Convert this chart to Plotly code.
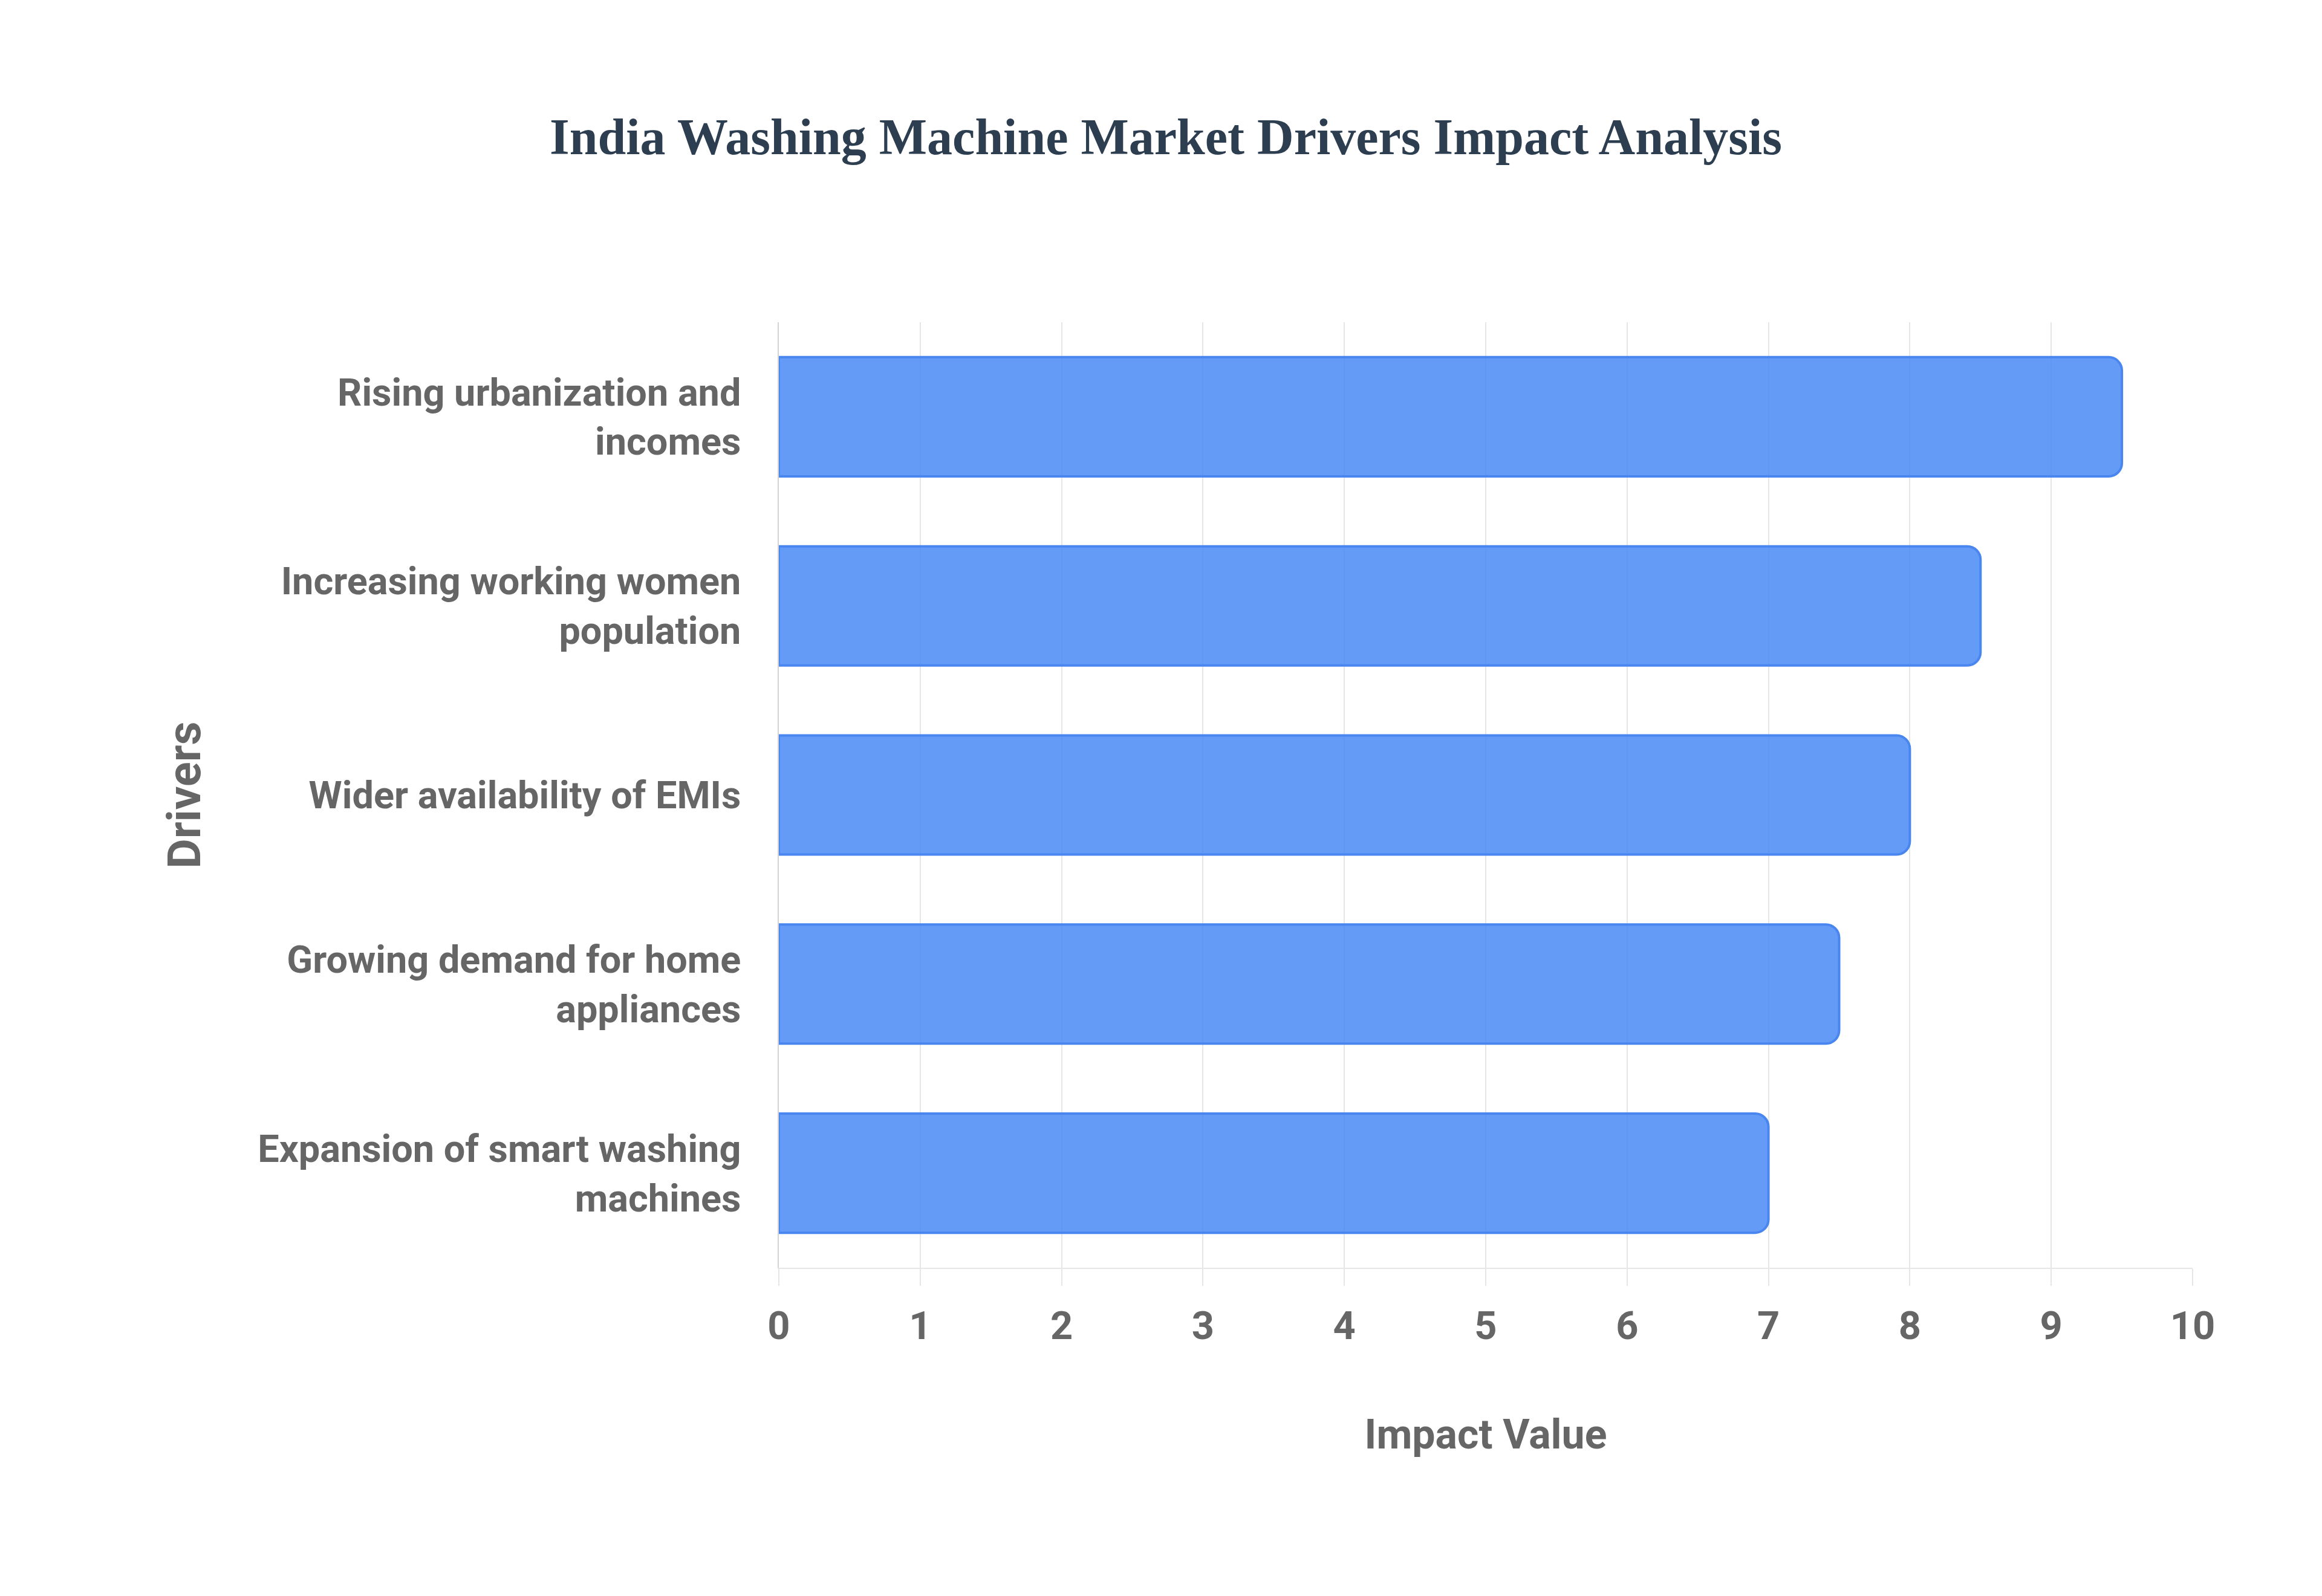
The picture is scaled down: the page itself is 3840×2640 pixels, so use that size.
import plotly.graph_objects as go

# top-down order as in the chart
drivers = [
    "Rising urbanization and<br>incomes",
    "Increasing working women<br>population",
    "Wider availability of EMIs",
    "Growing demand for home<br>appliances",
    "Expansion of smart washing<br>machines",
]
impact = [9.5, 8.5, 8.0, 7.5, 7.0]
x_ticks = list(range(0, 11))

W, H = 3840, 2640
TEXT_GREY = "#666666"
GRID = "#e6e6e6"

fig = go.Figure()
fig.add_trace(go.Bar(
    x=impact,
    y=drivers,
    orientation="h",
    marker=dict(
        color="rgba(66, 133, 244, 0.82)",
        line=dict(color="#4a86f0", width=4),
        cornerradius=22,
    ),
    hovertemplate="%{y}: %{x}<extra></extra>",
))

fig.update_layout(
    width=W,
    height=H,
    paper_bgcolor="white",
    plot_bgcolor="white",
    showlegend=False,
    bargap=0.37,
    margin=dict(l=1280, r=222, t=525, b=551, autoexpand=False),
    title=dict(
        text="<b>India Washing Machine Market Drivers Impact Analysis</b>",
        font=dict(family="Liberation Serif, Times New Roman, serif", size=84, color="#2c3e50"),
        x=0.5,
        xanchor="center",
        xref="container",
        y=1 - 218 / H,
        yref="container",
        yanchor="middle",
    ),
    font=dict(family="Roboto, Arial, sans-serif", color=TEXT_GREY),
)

fig.update_xaxes(
    range=[0, 10],
    tickvals=x_ticks,
    ticks="outside",
    ticklen=28,
    tickwidth=2,
    tickcolor=GRID,
    ticklabelstandoff=10,
    tickfont=dict(family="Roboto", size=65, color=TEXT_GREY, weight="bold"),
    showgrid=True,
    gridcolor=GRID,
    gridwidth=2,
    showline=True,
    linecolor=GRID,
    linewidth=2,
    zeroline=False,
    automargin=False,
    title=dict(
        text="Impact Value",
        font=dict(family="Roboto", size=68, color=TEXT_GREY, weight="bold"),
        standoff=118,
    ),
)

fig.update_yaxes(
    autorange="reversed",
    ticks="",
    ticklabelstandoff=48,
    tickfont=dict(family="Roboto", size=63, color=TEXT_GREY, weight="bold"),
    showgrid=False,
    showline=True,
    linecolor="#d4d4d4",
    linewidth=2,
    automargin=False,
    title=dict(
        text="Drivers",
        font=dict(family="Roboto", size=76, color=TEXT_GREY, weight="bold"),
        standoff=70,
    ),
)

fig.write_html("out.html")
